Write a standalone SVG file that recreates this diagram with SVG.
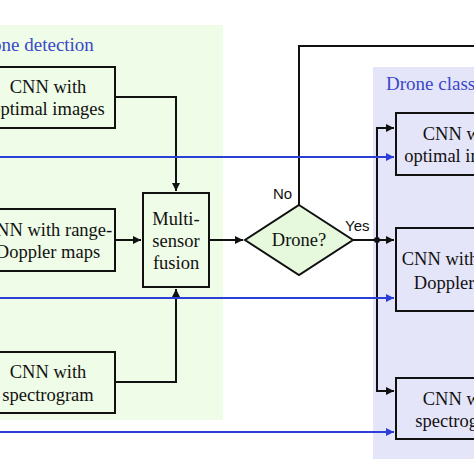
<svg xmlns="http://www.w3.org/2000/svg" width="474" height="474" viewBox="0 0 474 474">
<style>
.t{font-family:"Liberation Serif","Times New Roman",serif;font-size:18.5px;fill:#111;text-anchor:middle}
.s{font-family:"Liberation Sans",Arial,sans-serif;font-size:15px;fill:#111}
.ttl{font-family:"Liberation Serif","Times New Roman",serif;font-size:19px;fill:#3a48c8}
.bx{stroke:#111;stroke-width:2}
.g{fill:#effce7}
.b{fill:#e5e5fa}
.k{fill:none;stroke:#111;stroke-width:2}
.bl{fill:none;stroke:#2b3fd8;stroke-width:2}
</style>
<defs>
<marker id="ak" markerWidth="8" markerHeight="8" refX="8" refY="4" orient="auto" markerUnits="userSpaceOnUse"><path d="M0,0 L8,4 L0,8 Z" fill="#111"/></marker>
<marker id="ab" markerWidth="8" markerHeight="8" refX="8" refY="4" orient="auto" markerUnits="userSpaceOnUse"><path d="M0,0 L8,4 L0,8 Z" fill="#2b3fd8"/></marker>
</defs>
<rect width="474" height="474" fill="#fff"/>
<g id="panel-detection">
<rect x="-10" y="25" width="233" height="395" fill="#effce7"/>
<text class="ttl" x="-28" y="51">Drone detection</text>
</g>
<g id="panel-classification">
<rect x="373" y="67" width="120" height="392" fill="#e5e5fa"/>
<text class="ttl" x="386" y="90">Drone classification</text>
</g>
<g id="connectors">
<path class="k" d="M115,97 H176 V191" marker-end="url(#ak)"/>
<path class="k" d="M115,240 H141" marker-end="url(#ak)"/>
<path class="k" d="M115,382 H176 V289" marker-end="url(#ak)"/>
<path class="k" d="M209,240 H243" marker-end="url(#ak)"/>
<path class="k" d="M299,205 V46 H480"/>
<path class="k" d="M353,240 H394" marker-end="url(#ak)"/>
<path class="k" d="M377,240 V128 H394" marker-end="url(#ak)"/>
<path class="k" d="M377,240 V391 H394" marker-end="url(#ak)"/>
<circle cx="377" cy="240" r="3" fill="#111"/>
<path class="bl" d="M0,157 H394" marker-end="url(#ab)"/>
<path class="bl" d="M0,298 H394" marker-end="url(#ab)"/>
<path class="bl" d="M0,432 H394" marker-end="url(#ab)"/>
<text class="s" x="273" y="199">No</text>
<text class="s" x="345" y="231">Yes</text>
</g>
<g id="det-optical">
<rect class="bx g" x="-25" y="67" width="140" height="61"/>
<text class="t" x="48" y="93">CNN with</text>
<text class="t" x="48" y="115">optimal images</text>
</g>
<g id="det-rd">
<rect class="bx g" x="-25" y="209" width="140" height="62"/>
<text class="t" x="48" y="236">CNN with range-</text>
<text class="t" x="48" y="258">Doppler maps</text>
</g>
<g id="det-spec">
<rect class="bx g" x="-25" y="352" width="140" height="61"/>
<text class="t" x="48" y="378">CNN with</text>
<text class="t" x="48" y="401">spectrogram</text>
</g>
<g id="fusion">
<rect class="bx g" x="143" y="193" width="66" height="94"/>
<text class="t" x="176" y="225">Multi-</text>
<text class="t" x="176" y="247">sensor</text>
<text class="t" x="176" y="269">fusion</text>
</g>
<g id="decision">
<path class="bx" d="M299,205 L353,240 L299,275 L245,240 Z" fill="#e6f9dc"/>
<text class="t" x="299" y="246">Drone?</text>
</g>
<g id="cls-optical">
<rect class="bx b" x="396" y="113" width="130" height="62"/>
<text class="t" x="461" y="140">CNN with</text>
<text class="t" x="461" y="162">optimal images</text>
</g>
<g id="cls-rd">
<rect class="bx b" x="396" y="228" width="140" height="83"/>
<text class="t" x="466" y="265">CNN with range-</text>
<text class="t" x="466" y="289">Doppler maps</text>
</g>
<g id="cls-spec">
<rect class="bx b" x="396" y="378" width="130" height="61"/>
<text class="t" x="461" y="405">CNN with</text>
<text class="t" x="461" y="427">spectrogram</text>
</g>
</svg>
